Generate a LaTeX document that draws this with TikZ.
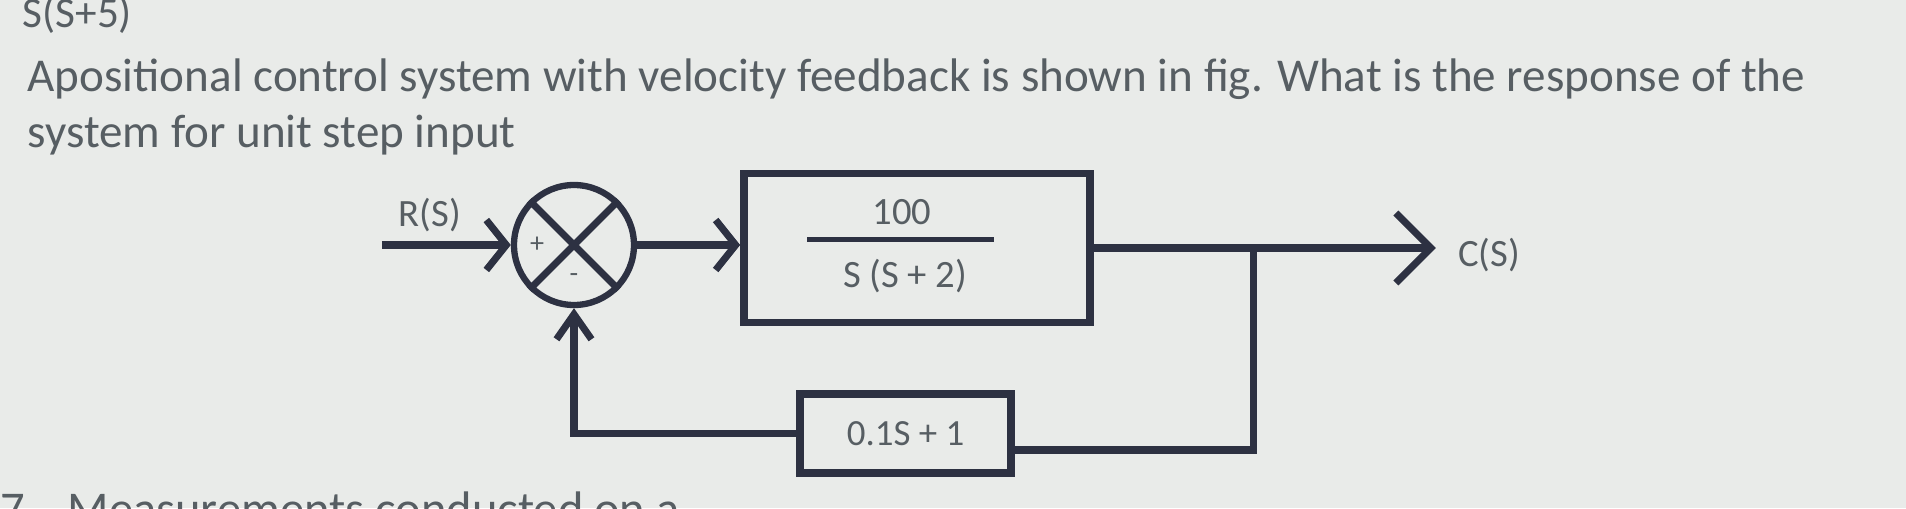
\documentclass[tikz,border=0pt]{standalone}
\usepackage{fontspec}
\setmainfont{Carlito}
\usepackage{xcolor}
\definecolor{colorPaper}{HTML}{E9EBE9}
\definecolor{colorLine}{HTML}{2D3142}
\definecolor{colorText}{HTML}{575E63}
\usepackage{tikz}
\usetikzlibrary{arrows.meta, positioning}
\tikzset{
  block/.style={draw=colorLine, line width=2.2pt, minimum width=3.46cm, minimum height=1.49cm, inner sep=0pt},
  fbblock/.style={draw=colorLine, line width=2.2pt, minimum width=2.11cm, minimum height=0.79cm, inner sep=0pt, text=colorText, font=\fontsize{10.5}{12}\selectfont},
  sumjunction/.style={circle, draw=colorLine, line width=1.8pt, minimum size=1.2cm, inner sep=0pt},
  wire/.style={draw=colorLine, line width=2pt},
  fracbar/.style={draw=colorLine, line width=1.4pt},
  siglabel/.style={text=colorText, font=\fontsize{11}{13}\selectfont},
  signmark/.style={text=colorText, font=\fontsize{8}{9}\selectfont, inner sep=0pt},
  questext/.style={text=colorText, font=\fontsize{13.4}{15}\selectfont, inner sep=0pt},
}

\begin{document}
\begin{tikzpicture}[>={Straight Barb[length=2mm,width=5mm]}, node distance=1.03cm]
\fill[colorPaper] (0,0) rectangle (19.06,5.08);
\clip (0,0) rectangle (19.06,5.08);
\node[questext, font=\fontsize{12.3}{14}\selectfont, anchor=base west] (qtop) at (0.22,4.80) {S(S+5)};
\node[questext, anchor=base west] (qline1) at (0.27,4.16) {Apositional control system with velocity feedback is shown in fig. What is the response of the};
\node[questext, anchor=base west] (qline2) at (0.27,3.60) {system for unit step input};
\node[questext, font=\fontsize{13.8}{15}\selectfont, anchor=base west] (qnum) at (0.0,-0.17) {7.};
\node[questext, font=\fontsize{13.8}{15}\selectfont, anchor=base west] (qnext) at (0.67,-0.17) {Measurements conducted on a};
\node[sumjunction] (sum) at (5.74,2.63) {};
\draw[wire] (sum.north west) -- (sum.south east) (sum.north east) -- (sum.south west);
\node[signmark] (plus) at ([xshift=-0.37cm]sum.center) {+};
\node[signmark] (minus) at ([yshift=-0.33cm]sum.center) {-};
\node[block, right=of sum, yshift=-0.03cm] (plant) {};
\node[siglabel] (num) at ([xshift=-0.15cm,yshift=0.355cm]plant.center) {100};
\node[siglabel] (den) at ([xshift=-0.12cm,yshift=-0.285cm]plant.center) {S (S + 2)};
\draw[fracbar] ([xshift=-1.10cm,yshift=0.085cm]plant.center) -- ([xshift=0.77cm,yshift=0.085cm]plant.center);
\node[fbblock] (fb) at (9.055,0.745) {0.1S + 1};
\coordinate[left=1.29cm of sum.west] (rin);
\coordinate[right=1.60cm of plant.east] (branch);
\coordinate[right=3.42cm of plant.east] (out);
\coordinate (fbturn) at (branch |- 0,0.58);
\node[siglabel] (rlabel) at (4.30,2.93) {R(S)};
\node[siglabel, right=0.1cm of out, yshift=-0.07cm] (clabel) {C(S)};
\draw[wire, ->] (rin) -- (sum.west);
\draw[wire, ->] (sum.east) -- (sum.east -| plant.west);
\draw[wire, -{Straight Barb[length=3.5mm,width=7mm]}] (plant.east) -- (out);
\draw[wire] (branch) -- (fbturn) -- (fbturn -| fb.east);
\draw[wire, -{Straight Barb[length=2.5mm,width=3.5mm]}] (fb.west) -| (sum.south);
\end{tikzpicture}
\end{document}
